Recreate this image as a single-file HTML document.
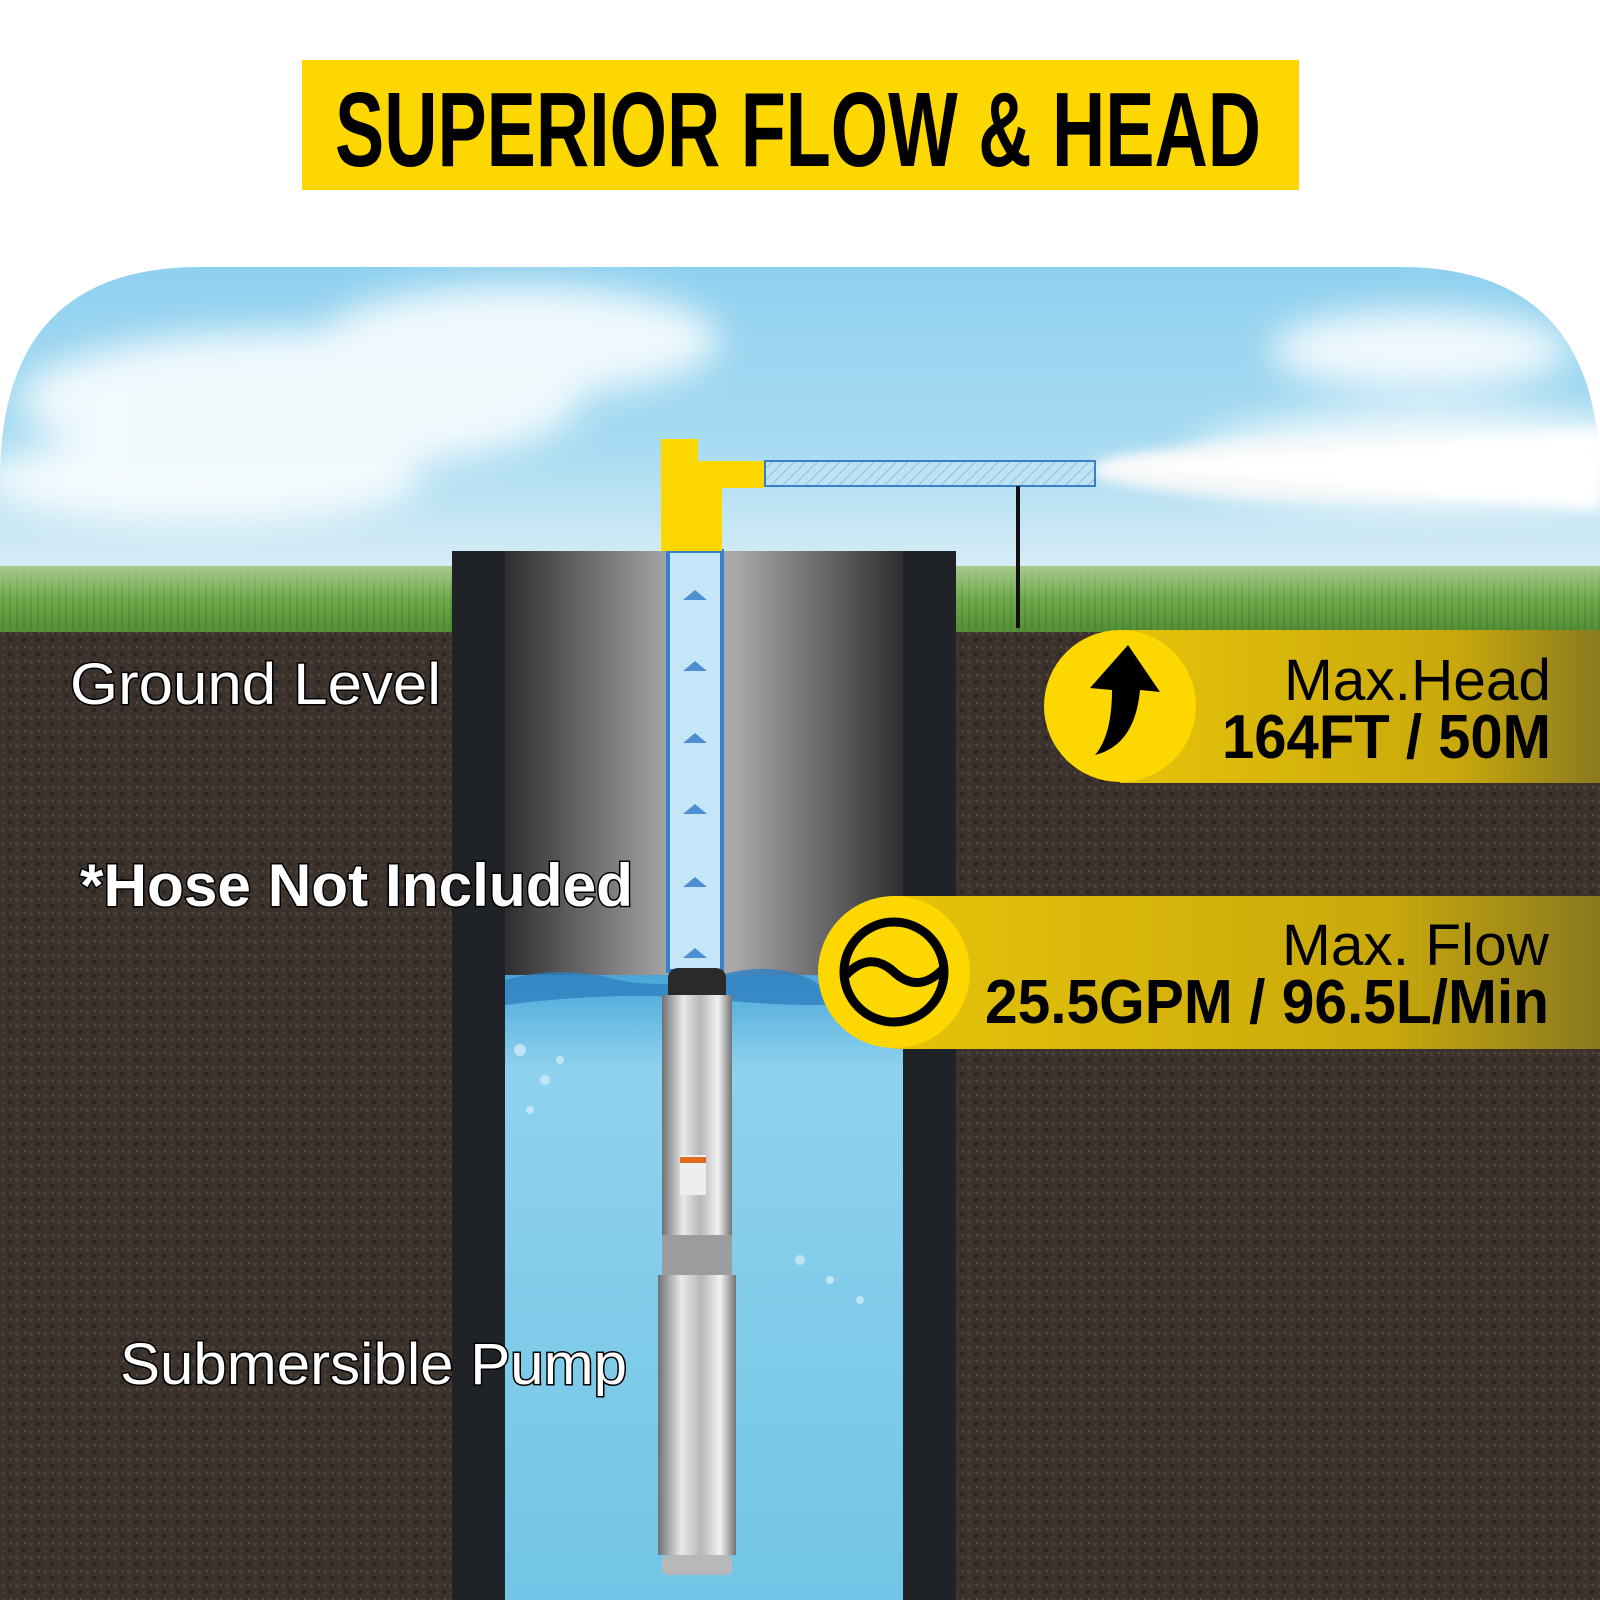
<!DOCTYPE html>
<html><head><meta charset="utf-8"><style>html,body{margin:0;padding:0;background:#fff}svg{display:block}</style></head>
<body>
<svg width="1600" height="1600" viewBox="0 0 1600 1600" xmlns="http://www.w3.org/2000/svg">
<defs>
<linearGradient id="sky" x1="0" y1="0" x2="0" y2="1">
<stop offset="0" stop-color="#8ed0ef"/><stop offset="0.6" stop-color="#a9dcf2"/><stop offset="1" stop-color="#dceef6"/></linearGradient>
<linearGradient id="grass" x1="0" y1="0" x2="0" y2="1">
<stop offset="0" stop-color="#a9c98c"/><stop offset="0.5" stop-color="#6da84a"/><stop offset="1" stop-color="#4f8a33"/></linearGradient>
<pattern id="blades" width="7" height="70" patternUnits="userSpaceOnUse">
<rect width="7" height="70" fill="none"/><path d="M2 70 L3 8 L4 70Z" fill="#3f7a28" opacity="0.5"/></pattern>
<pattern id="soil" width="14" height="14" patternUnits="userSpaceOnUse">
<rect width="14" height="14" fill="#3b322c"/><circle cx="3" cy="4" r="2" fill="#4a4039"/><circle cx="10" cy="10" r="2.3" fill="#2c2521"/><circle cx="11" cy="3" r="1.2" fill="#564b43"/><circle cx="4" cy="11" r="1.4" fill="#463c35"/></pattern>
<linearGradient id="casing" x1="0" y1="0" x2="1" y2="0">
<stop offset="0" stop-color="#2e2e30"/><stop offset="0.42" stop-color="#a8a8aa"/><stop offset="0.58" stop-color="#a8a8aa"/><stop offset="1" stop-color="#2e2e30"/></linearGradient>
<linearGradient id="water" x1="0" y1="0" x2="0" y2="1">
<stop offset="0" stop-color="#4aa6d8"/><stop offset="0.15" stop-color="#8ed2ee"/><stop offset="1" stop-color="#72c5e6"/></linearGradient>
<linearGradient id="pump" x1="0" y1="0" x2="1" y2="0">
<stop offset="0" stop-color="#6e7072"/><stop offset="0.3" stop-color="#e8e9ea"/><stop offset="0.55" stop-color="#b5b7b9"/><stop offset="0.8" stop-color="#f2f2f2"/><stop offset="1" stop-color="#707274"/></linearGradient>
<linearGradient id="band" x1="0" y1="0" x2="1" y2="0">
<stop offset="0" stop-color="#e5c30a"/><stop offset="0.7" stop-color="#c9a80c"/><stop offset="1" stop-color="#8a7a20"/></linearGradient>
<filter id="blur"><feGaussianBlur stdDeviation="18"/></filter>
<filter id="blur2"><feGaussianBlur stdDeviation="6"/></filter>
<clipPath id="panel"><path d="M0 480 Q0 267 200 267 L1400 267 Q1600 267 1600 480 L1600 1600 L0 1600Z"/></clipPath>
<pattern id="hatch" width="8" height="8" patternUnits="userSpaceOnUse" patternTransform="rotate(45)"><rect width="8" height="8" fill="#bfe3f5"/><line x1="0" y1="0" x2="0" y2="8" stroke="#8cc2e2" stroke-width="2"/></pattern>
</defs>

<rect width="1600" height="1600" fill="#fff"/>
<rect x="302" y="60" width="997" height="130" fill="#fdd800"/>
<text x="335" y="166" font-family="Liberation Sans, sans-serif" font-weight="bold" font-size="106" textLength="926" lengthAdjust="spacingAndGlyphs" fill="#000">SUPERIOR FLOW &amp; HEAD</text>

<g clip-path="url(#panel)">
<rect x="0" y="260" width="1600" height="320" fill="url(#sky)"/>
<g filter="url(#blur)" fill="#fff" opacity="0.85">
<ellipse cx="300" cy="400" rx="280" ry="70"/><ellipse cx="520" cy="340" rx="200" ry="55"/><ellipse cx="200" cy="480" rx="220" ry="45"/>
<ellipse cx="1420" cy="350" rx="150" ry="40"/><ellipse cx="1450" cy="460" rx="260" ry="50"/>
</g>
<ellipse cx="1350" cy="470" rx="260" ry="30" fill="#f4f7f8" filter="url(#blur2)"/>
<path d="M1095 466 L1600 430 L1600 510 Z" fill="#fff" filter="url(#blur2)"/>
<rect x="0" y="566" width="1600" height="70" fill="url(#grass)"/>
<rect x="0" y="566" width="1600" height="70" fill="url(#blades)"/>
<rect x="0" y="632" width="1600" height="968" fill="url(#soil)"/>
</g>

<!-- well -->
<rect x="452" y="551" width="504" height="1049" fill="#1f2226"/>
<rect x="505" y="551" width="398" height="430" fill="url(#casing)"/>
<rect x="505" y="975" width="398" height="625" fill="url(#water)"/>
<path d="M505 980 Q560 965 610 978 T720 975 T820 985 T903 975 L903 1000 Q820 1010 720 1000 T505 1005Z" fill="#2f7fc0" opacity="0.8"/>
<g fill="#cfeaf8" opacity="0.8"><circle cx="520" cy="1050" r="6"/><circle cx="545" cy="1080" r="5"/><circle cx="530" cy="1110" r="4"/><circle cx="560" cy="1060" r="4"/><circle cx="800" cy="1260" r="5"/><circle cx="830" cy="1280" r="4"/><circle cx="860" cy="1300" r="4"/></g>

<!-- pipe -->
<rect x="668" y="551" width="54" height="420" fill="#c4e6f8" stroke="#3a7fc9" stroke-width="4"/>
<g fill="#4d8fd0">
<path d="M683 600 L695 590 L707 600Z"/><path d="M683 671 L695 661 L707 671Z"/><path d="M683 743 L695 733 L707 743Z"/><path d="M683 814 L695 804 L707 814Z"/><path d="M683 887 L695 877 L707 887Z"/><path d="M683 958 L695 948 L707 958Z"/>
</g>
<!-- elbow -->
<path d="M661 439 L698 439 L698 461 L765 461 L765 488 L722 488 L722 551 L661 551Z" fill="#fdd800"/>
<rect x="765" y="461" width="330" height="25" fill="url(#hatch)" stroke="#3a7fc9" stroke-width="2"/>
<rect x="1016" y="486" width="4" height="142" fill="#111"/>

<!-- pump -->
<rect x="668" y="968" width="58" height="40" rx="10" fill="#2a2a2a"/>
<rect x="662" y="995" width="70" height="240" fill="url(#pump)"/>
<rect x="662" y="1235" width="70" height="40" fill="#9a9c9e"/>
<rect x="658" y="1275" width="78" height="280" fill="url(#pump)"/>
<rect x="662" y="1555" width="70" height="20" rx="6" fill="#b6b8ba"/>
<rect x="680" y="1155" width="26" height="40" fill="#eee"/><rect x="680" y="1157" width="26" height="6" fill="#e06a20"/>

<!-- badges -->
<rect x="1120" y="630" width="480" height="153" fill="url(#band)"/>
<circle cx="1120" cy="706" r="76" fill="#fdd800"/>
<path d="M1095 755 Q1135 745 1140 690 L1160 692 L1128 645 L1090 688 L1112 690 Q1112 735 1095 755Z" fill="#000"/>
<rect x="894" y="896" width="706" height="153" fill="url(#band)"/>
<circle cx="894" cy="972" r="76" fill="#fdd800"/>
<circle cx="894" cy="972" r="50" fill="none" stroke="#000" stroke-width="9"/>
<path d="M846 975 Q870 950 894 972 T942 970" fill="none" stroke="#000" stroke-width="9"/>

<g font-family="Liberation Sans, sans-serif" fill="#000">
<text x="1284" y="700" font-size="58" textLength="267" lengthAdjust="spacingAndGlyphs">Max.Head</text>
<text x="1222" y="758" font-size="62" font-weight="bold" textLength="329" lengthAdjust="spacingAndGlyphs">164FT / 50M</text>
<text x="1282" y="965" font-size="58" textLength="267" lengthAdjust="spacingAndGlyphs">Max. Flow</text>
<text x="985" y="1023" font-size="62" font-weight="bold" textLength="564" lengthAdjust="spacingAndGlyphs">25.5GPM / 96.5L/Min</text>
</g>
<g font-family="Liberation Sans, sans-serif" fill="#fff" stroke="#000" stroke-width="3" paint-order="stroke">
<text x="70" y="704" font-size="58" textLength="371" lengthAdjust="spacingAndGlyphs">Ground Level</text>
<text x="80" y="906" font-size="60" font-weight="bold" textLength="553" lengthAdjust="spacingAndGlyphs">*Hose Not Included</text>
<text x="120" y="1384" font-size="58" textLength="507" lengthAdjust="spacingAndGlyphs">Submersible Pump</text>
</g>
</svg>
</body></html>
